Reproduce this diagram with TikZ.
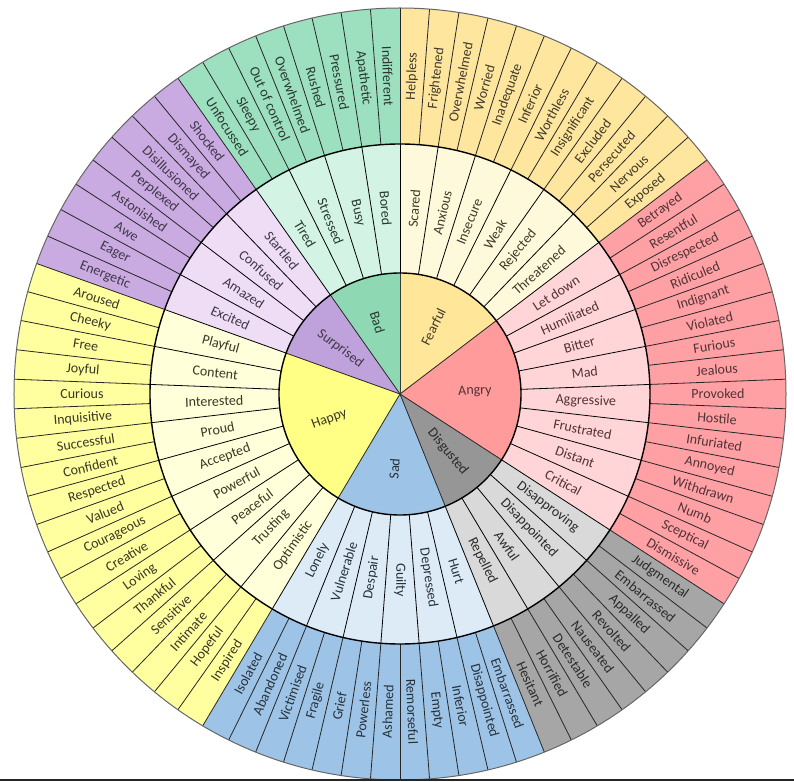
\documentclass[tikz,border=0pt]{standalone}
\usepackage{fontspec}
\setmainfont{Carlito}
\usepackage{xcolor}
\usepackage{tikz}

% inner, middle and outer colours of each feeling
\definecolor{fearI}{HTML}{FFE699}
\definecolor{fearM}{HTML}{FFF9DC}
\definecolor{fearO}{HTML}{FFE69E}
\definecolor{angryI}{HTML}{FF9B9B}
\definecolor{angryM}{HTML}{FFD5D8}
\definecolor{angryO}{HTML}{FFA0A5}
\definecolor{disgI}{HTML}{969696}
\definecolor{disgM}{HTML}{D9D9D9}
\definecolor{disgO}{HTML}{A6A6A6}
\definecolor{sadI}{HTML}{9DC3E6}
\definecolor{sadM}{HTML}{DDEBF7}
\definecolor{sadO}{HTML}{9DC3E6}
\definecolor{happyI}{HTML}{FFFF85}
\definecolor{happyM}{HTML}{FFFFD9}
\definecolor{happyO}{HTML}{FFFFA0}
\definecolor{surpI}{HTML}{BFA2DB}
\definecolor{surpM}{HTML}{EEDDF5}
\definecolor{surpO}{HTML}{C9ABE2}
\definecolor{badI}{HTML}{8ED9B3}
\definecolor{badM}{HTML}{D3F3E5}
\definecolor{badO}{HTML}{9DE0C0}
\colorlet{fearT}{fearO!25!black}
\colorlet{angryT}{angryO!32!black}
\colorlet{disgT}{disgO!25!black}
\colorlet{sadT}{sadO!25!black}
\colorlet{happyT}{happyO!22!black}
\colorlet{surpT}{surpO!32!black}
\colorlet{badT}{badO!25!black}

\newcommand{\slice}{4.390243902} % 360/82

% words of one ring: first slice, slices per word, radius, colour, name, words
\newcommand{\putwords}[6]{%
  \foreach \w [count=\n from 0] in {#6} {%
    \pgfmathsetmacro{\a}{90-(#1+(\n+0.5)*#2)*\slice}%
    \node[word, text=#4, radial=\a] (#5\n) at (\a:#3) {\w};%
  }}

\begin{document}
\begin{tikzpicture}[x=1pt, y=1pt,
            word/.style={font=\fontsize{14}{15}\selectfont, inner sep=0pt},
            radial/.style={rotate={(#1>-91) ? #1 : #1+180}},
            sep/.style={draw=black!85, line width=0.8pt},
            ring/.style={draw=black, line width=1.4pt}
        ]
            \fill[white] (-400,-387) rectangle (394,394);
            \useasboundingbox (-400,-387) rectangle (394,394);

            % Sectors
            \foreach \s/\k/\cat in {0/12/fear, 12/16/angry, 28/8/disg, 36/12/sad, 48/18/happy, 66/8/surp, 74/8/bad} {
                \pgfmathsetmacro{\ta}{90-\s*\slice}
                \pgfmathsetmacro{\tb}{90-(\s+\k)*\slice}
                \fill[\cat O] (\ta:250) arc[start angle=\ta, end angle=\tb, radius=250] -- (\tb:386) arc[start angle=\tb, end angle=\ta, radius=386] -- cycle;
                \fill[\cat M] (\ta:121) arc[start angle=\ta, end angle=\tb, radius=121] -- (\tb:250) arc[start angle=\tb, end angle=\ta, radius=250] -- cycle;
                \fill[\cat I] (0,0) -- (\ta:121) arc[start angle=\ta, end angle=\tb, radius=121] -- cycle;
                \draw[sep] (0,0) -- (\ta:121);
            }

            % Dividing lines
            \foreach \k in {0,...,81}
                \draw[sep] (90-\k*\slice:250) -- (90-\k*\slice:386);
            \foreach \k in {0,2,...,80}
                \draw[sep, draw=black] (90-\k*\slice:121) -- (90-\k*\slice:250);

            \draw[draw=black!60, line width=1pt] (0,0) circle[radius=386];
            \draw[ring] (0,0) circle[radius=250];
            \draw[ring] (0,0) circle[radius=121];

            % Inner part
            \foreach \s/\k/\cat/\lab in {0/12/fear/Fearful, 12/16/angry/Angry, 28/8/disg/Disgusted, 36/12/sad/Sad, 48/18/happy/Happy, 66/8/surp/Surprised, 74/8/bad/Bad} {
                \pgfmathsetmacro{\a}{90-(\s+\k/2)*\slice}
                \node[word, text=\cat T, radial=\a] (\cat) at (\a:75) {\lab};
            }

            % Middle part
            \putwords{0}{2}{186}{fearT}{fm}{Scared, Anxious, Insecure, Weak, Rejected, Threatened}
            \putwords{12}{2}{186}{angryT}{am}{Let down, Humiliated, Bitter, Mad, Aggressive, Frustrated, Distant, Critical}
            \putwords{28}{2}{186}{disgT}{dm}{Disapproving, Disappointed, Awful, Repelled}
            \putwords{36}{2}{186}{sadT}{sm}{Hurt, Depressed, Guilty, Despair, Vulnerable, Lonely}
            \putwords{48}{2}{186}{happyT}{hm}{Optimistic, Trusting, Peaceful, Powerful, Accepted, Proud, Interested, Content, Playful}
            \putwords{66}{2}{186}{surpT}{um}{Excited, Amazed, Confused, Startled}
            \putwords{74}{2}{186}{badT}{bm}{Tired, Stressed, Busy, Bored}

            % Outer part
            \putwords{0}{1}{318}{fearT}{fo}{Helpless, Frightened, Overwhelmed, Worried, Inadequate, Inferior, Worthless, Insignificant, Excluded, Persecuted, Nervous, Exposed}
            \putwords{12}{1}{318}{angryT}{ao}{Betrayed, Resentful, Disrespected, Ridiculed, Indignant, Violated, Furious, Jealous, Provoked, Hostile, Infuriated, Annoyed, Withdrawn, Numb, Sceptical, Dismissive}
            \putwords{28}{1}{318}{disgT}{do}{Judgmental, Embarrassed, Appalled, Revolted, Nauseated, Detestable, Horrified, Hesitant}
            \putwords{36}{1}{318}{sadT}{so}{Embarrassed, Disappointed, Inferior, Empty, Remorseful, Ashamed, Powerless, Grief, Fragile, Victimised, Abandoned, Isolated}
            \putwords{48}{1}{318}{happyT}{ho}{Inspired, Hopeful, Intimate, Sensitive, Thankful, Loving, Creative, Courageous, Valued, Respected, Confident, Successful, Inquisitive, Curious, Joyful, Free, Cheeky, Aroused}
            \putwords{66}{1}{318}{surpT}{uo}{Energetic, Eager, Awe, Astonished, Perplexed, Disillusioned, Dismayed, Shocked}
            \putwords{74}{1}{318}{badT}{bo}{Unfocussed, Sleepy, Out of control, Overwhelmed, Rushed, Pressured, Apathetic, Indifferent}

            \draw[line width=2pt, black!85] (-400,-386) -- (394,-386);
        \end{tikzpicture}
\end{document}
